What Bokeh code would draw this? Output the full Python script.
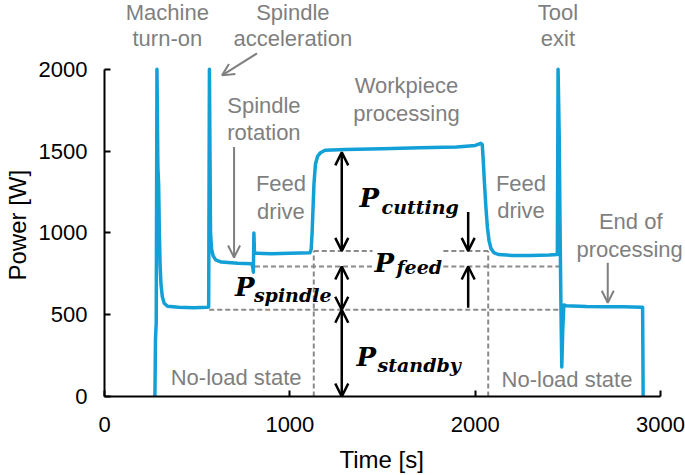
from bokeh.plotting import figure
from bokeh.models import Label, Arrow, OpenHead, ColumnDataSource, FixedTicker, Range1d
from bokeh.embed import file_html
from bokeh.resources import INLINE

# ---- measured power trace (time in s, power in W); spikes are cut at the 2000 W axis top ----
time_s = [272, 275, 279, 283, 288, 292, 296, 300, 305, 312, 322, 340, 400, 480, 556,
          562, 566, 572, 578, 586, 600, 630, 720, 795,
          800, 803, 806, 809, 820, 900, 1000, 1108,
          1115, 1120, 1125, 1130, 1138, 1150, 1165, 1190, 1300, 1500, 1700, 1900, 2000, 2030,
          2038, 2043, 2050, 2058, 2066, 2075, 2085, 2100, 2125, 2200, 2300, 2400, 2443,
          2447, 2453, 2458, 2463, 2467, 2472, 2478, 2490, 2600, 2700, 2800, 2895, 2903, 2906]
power_w = [0, 350, 450, 2000, 1400, 1300, 1000, 800, 680, 610, 570, 552, 545, 543, 545,
           548, 2000, 1000, 900, 860, 835, 822, 815, 812,
           790, 760, 1000, 880, 875, 872, 875, 878,
           900, 1000, 1150, 1300, 1420, 1470, 1490, 1505, 1510, 1515, 1520, 1525, 1535, 1548,
           1540, 1450, 1300, 1150, 1030, 950, 905, 880, 868, 862, 862, 865, 868,
           2000, 1600, 1000, 500, 180, 400, 560, 555, 550, 548, 548, 545, 545, 0]

# reference levels (W) and times (s)
standby_level = 530
spindle_level = 795
feed_level = 890
cut_start = 1129
cut_end = 2070
x_ticks = [0, 1000, 2000, 3000]
y_ticks = [0, 500, 1000, 1500, 2000]
x_max = 3000
y_max = 2000

BLUE = "#12a0d7"
GRAY = "#7f7f7f"
NB = "\u00a0"

# frame extended to the top/right edge so annotations above the axes are not clipped;
# the axes themselves are bounded to 0..3000 s and 0..2000 W
p = figure(width=685, height=475,
           x_range=Range1d(0, x_max * 583 / 558), y_range=Range1d(0, y_max * 397 / 328),
           output_backend="svg", toolbar_location=None,
           min_border_left=102, min_border_right=0, min_border_top=0, min_border_bottom=78)
p.outline_line_color = None
p.xgrid.visible = False
p.ygrid.visible = False
p.background_fill_color = "white"

for ax in (p.xaxis[0], p.yaxis[0]):
    ax.axis_line_width = 2
    ax.axis_line_color = "black"
    ax.major_tick_in = 6
    ax.major_tick_out = 0
    ax.major_tick_line_width = 2
    ax.major_tick_line_color = "black"
    ax.minor_tick_line_color = None
    ax.major_label_text_font = "Liberation Sans"
    ax.major_label_text_font_size = "22px"
    ax.major_label_text_color = "black"
    ax.axis_label_text_font = "Liberation Sans"
    ax.axis_label_text_font_size = "24px"
    ax.axis_label_text_font_style = "normal"
    ax.axis_label_text_color = "black"

p.xaxis.ticker = FixedTicker(ticks=x_ticks)
p.yaxis.ticker = FixedTicker(ticks=y_ticks)
p.xaxis.bounds = (0, x_max)
p.yaxis.bounds = (0, y_max)
# trailing no-break spaces re-centre the titles on the bounded axes
p.xaxis.axis_label = "Time [s]" + NB * 4
p.yaxis.axis_label = "Power [W]" + NB * 8
p.xaxis.major_label_standoff = 20
p.xaxis.axis_label_standoff = 11
p.yaxis.major_label_standoff = 17
p.yaxis.axis_label_standoff = 5

# dashed reference lines
gap_a, gap_b = 1446, 1828
seg = ColumnDataSource(dict(
    x0=[565, 812, gap_b, cut_start, gap_b, cut_start, cut_end],
    x1=[2462, gap_a, 2462, gap_a, cut_end, cut_start, cut_end],
    y0=[standby_level, spindle_level, spindle_level, feed_level, feed_level, 0, 0],
    y1=[standby_level, spindle_level, spindle_level, feed_level, feed_level, feed_level, feed_level],
))
p.segment(x0="x0", y0="y0", x1="x1", y1="y1", source=seg, line_color="#8a8a8a",
          line_width=2, line_dash="5 3")

# power trace
p.line(time_s, power_w, line_color=BLUE, line_width=3.5, line_join="round")

# black double arrows
dbl = ColumnDataSource(dict(xs=[1280, 1280, 1280], ys=[feed_level, standby_level, 0],
                            xe=[1280, 1280, 1280], ye=[1492, spindle_level, standby_level]))
p.add_layout(Arrow(x_start="xs", y_start="ys", x_end="xe", y_end="ye", source=dbl,
                   line_width=2.5, line_color="black",
                   start=OpenHead(size=13, line_width=2.5, line_color="black"),
                   end=OpenHead(size=13, line_width=2.5, line_color="black")))
sgl = ColumnDataSource(dict(xs=[1962, 1962], ys=[1128, 543], xe=[1962, 1962], ye=[feed_level, spindle_level]))
p.add_layout(Arrow(x_start="xs", y_start="ys", x_end="xe", y_end="ye", source=sgl,
                   line_width=2.5, line_color="black",
                   end=OpenHead(size=13, line_width=2.5, line_color="black")))
# gray pointer arrows
gry = ColumnDataSource(dict(xs=[823, 699, 2715], ys=[2098, 1525, 817],
                            xe=[634, 699, 2715], ye=[1963, 850, 573]))
p.add_layout(Arrow(x_start="xs", y_start="ys", x_end="xe", y_end="ye", source=gry,
                   line_width=2, line_color=GRAY,
                   end=OpenHead(size=12, line_width=2, line_color=GRAY)))

# gray annotations
notes = [
    ("Machine", 339, 2348), ("turn-on", 339, 2189),
    ("Spindle", 1016, 2348), ("acceleration", 1016, 2189),
    ("Tool", 2446, 2348), ("exit", 2446, 2189),
    ("Spindle", 860, 1780), ("rotation", 860, 1616),
    ("Feed", 952, 1305), ("drive", 952, 1128),
    ("Workpiece", 1629, 1902), ("processing", 1629, 1732),
    ("Feed", 2247, 1305), ("drive", 2247, 1140),
    ("End of", 2839, 1067), ("processing", 2833, 896),
    ("No-load state", 710, 116), ("No-load state", 2495, 104),
]
for txt, x, y in notes:
    p.add_layout(Label(x=x, y=y, text=txt, text_align="center", text_baseline="middle",
                       text_font="Liberation Sans", text_font_size="22px", text_color=GRAY))

# power component labels
sym = [
    ("cutting", 1376, 1213, 1495, 1159),
    ("feed", 1457, 817, 1575, 793),
    ("spindle", 704, 671, 806, 622),
    ("standby", 1360, 244, 1473, 195),
]
for sub, px, py, sx, sy in sym:
    p.add_layout(Label(x=px, y=py, text="P", text_align="left", text_baseline="middle",
                       text_font="DejaVu Serif", text_font_style="bold italic",
                       text_font_size="26px", text_color="black"))
    p.add_layout(Label(x=sx, y=sy, text=sub, text_align="left", text_baseline="middle",
                       text_font="DejaVu Serif", text_font_style="bold italic",
                       text_font_size="19px", text_color="black"))

open("out.html", "w").write(file_html(p, INLINE))
